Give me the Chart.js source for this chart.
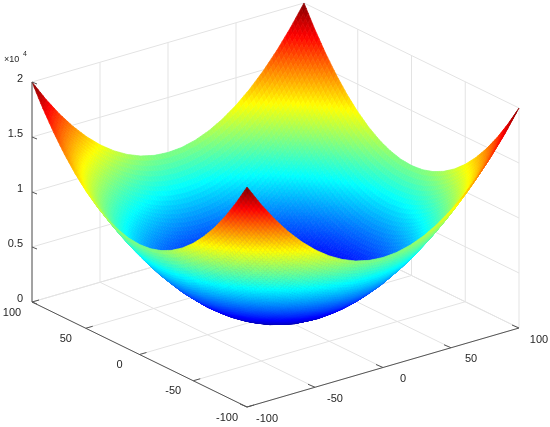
<!DOCTYPE html>
<html><head><meta charset="utf-8">
<script src="https://cdn.jsdelivr.net/npm/chart.js@4"></script>
<style>html,body{margin:0;padding:0;background:#fff}</style>
</head><body>
<canvas id="c" width="550" height="427"></canvas>
<script>
const xs = [-100,-90,-80,-70,-60,-50,-40,-30,-20,-10,0,10,20,30,40,50,60,70,80,90,100];
const ys = [-100,-90,-80,-70,-60,-50,-40,-30,-20,-10,0,10,20,30,40,50,60,70,80,90,100];
const zRows = [
[20000,18100,16400,14900,13600,12500,11600,10900,10400,10100,10000,10100,10400,10900,11600,12500,13600,14900,16400,18100,20000],
[18100,16200,14500,13000,11700,10600,9700,9000,8500,8200,8100,8200,8500,9000,9700,10600,11700,13000,14500,16200,18100],
[16400,14500,12800,11300,10000,8900,8000,7300,6800,6500,6400,6500,6800,7300,8000,8900,10000,11300,12800,14500,16400],
[14900,13000,11300,9800,8500,7400,6500,5800,5300,5000,4900,5000,5300,5800,6500,7400,8500,9800,11300,13000,14900],
[13600,11700,10000,8500,7200,6100,5200,4500,4000,3700,3600,3700,4000,4500,5200,6100,7200,8500,10000,11700,13600],
[12500,10600,8900,7400,6100,5000,4100,3400,2900,2600,2500,2600,2900,3400,4100,5000,6100,7400,8900,10600,12500],
[11600,9700,8000,6500,5200,4100,3200,2500,2000,1700,1600,1700,2000,2500,3200,4100,5200,6500,8000,9700,11600],
[10900,9000,7300,5800,4500,3400,2500,1800,1300,1000,900,1000,1300,1800,2500,3400,4500,5800,7300,9000,10900],
[10400,8500,6800,5300,4000,2900,2000,1300,800,500,400,500,800,1300,2000,2900,4000,5300,6800,8500,10400],
[10100,8200,6500,5000,3700,2600,1700,1000,500,200,100,200,500,1000,1700,2600,3700,5000,6500,8200,10100],
[10000,8100,6400,4900,3600,2500,1600,900,400,100,0,100,400,900,1600,2500,3600,4900,6400,8100,10000],
[10100,8200,6500,5000,3700,2600,1700,1000,500,200,100,200,500,1000,1700,2600,3700,5000,6500,8200,10100],
[10400,8500,6800,5300,4000,2900,2000,1300,800,500,400,500,800,1300,2000,2900,4000,5300,6800,8500,10400],
[10900,9000,7300,5800,4500,3400,2500,1800,1300,1000,900,1000,1300,1800,2500,3400,4500,5800,7300,9000,10900],
[11600,9700,8000,6500,5200,4100,3200,2500,2000,1700,1600,1700,2000,2500,3200,4100,5200,6500,8000,9700,11600],
[12500,10600,8900,7400,6100,5000,4100,3400,2900,2600,2500,2600,2900,3400,4100,5000,6100,7400,8900,10600,12500],
[13600,11700,10000,8500,7200,6100,5200,4500,4000,3700,3600,3700,4000,4500,5200,6100,7200,8500,10000,11700,13600],
[14900,13000,11300,9800,8500,7400,6500,5800,5300,5000,4900,5000,5300,5800,6500,7400,8500,9800,11300,13000,14900],
[16400,14500,12800,11300,10000,8900,8000,7300,6800,6500,6400,6500,6800,7300,8000,8900,10000,11300,12800,14500,16400],
[18100,16200,14500,13000,11700,10600,9700,9000,8500,8200,8100,8200,8500,9000,9700,10600,11700,13000,14500,16200,18100],
[20000,18100,16400,14900,13600,12500,11600,10900,10400,10100,10000,10100,10400,10900,11600,12500,13600,14900,16400,18100,20000]
];
const xTicks = [-100,-50,0,50,100];
const yTicks = [-100,-50,0,50,100];
const zTicks = [0,5000,10000,15000,20000];
const zTickLabels = ['0','0.5','1','1.5','2'];

const O = [247,407], EX = [272,-79], EY = [-215,-105], EZ = [0,-220];
function proj(x,y,z){
  const u=(x+100)/200, v=(y+100)/200, w=z/20000;
  return [O[0]+u*EX[0]+v*EY[0]+w*EZ[0], O[1]+u*EX[1]+v*EY[1]+w*EZ[1]];
}
function jet(t){
  const c=v=>Math.round(255*Math.max(0,Math.min(1,v)));
  return `rgb(${c(1.5-Math.abs(4*t-3))},${c(1.5-Math.abs(4*t-2))},${c(1.5-Math.abs(4*t-1))})`;
}
const SUB = 5; // rendering subdivision of each data cell
const surfacePlugin = {
  id:'surface3d',
  beforeDatasetsDraw(chart){
    const ctx=chart.ctx, sx=chart.scales.x, sy=chart.scales.y;
    const P=(x,y,z)=>{const p=proj(x,y,z);return [sx.getPixelForValue(p[0]),sy.getPixelForValue(p[1])];};
    const line=(a,b,col,w)=>{ctx.strokeStyle=col;ctx.lineWidth=w;ctx.beginPath();ctx.moveTo(a[0],a[1]);ctx.lineTo(b[0],b[1]);ctx.stroke();};
    ctx.save();
    const g='#e3e3e3';
    xTicks.forEach(x=>line(P(x,-100,0),P(x,100,0),g,1));
    yTicks.forEach(y=>line(P(-100,y,0),P(100,y,0),g,1));
    xTicks.forEach(x=>line(P(x,100,0),P(x,100,20000),g,1));
    zTicks.forEach(z=>line(P(-100,100,z),P(100,100,z),g,1));
    yTicks.forEach(y=>line(P(100,y,0),P(100,y,20000),g,1));
    zTicks.forEach(z=>line(P(100,-100,z),P(100,100,z),g,1));
    const cells=[];
    for(let j=0;j<ys.length-1;j++)for(let i=0;i<xs.length-1;i++){
      const z00=zRows[j][i], z10=zRows[j][i+1], z01=zRows[j+1][i], z11=zRows[j+1][i+1];
      const zf=(a,b)=>z00*(1-a)*(1-b)+z10*a*(1-b)+z01*(1-a)*b+z11*a*b;
      for(let b=0;b<SUB;b++)for(let a=0;a<SUB;a++){
        const a0=a/SUB,a1=(a+1)/SUB,b0=b/SUB,b1=(b+1)/SUB;
        const X=t=>xs[i]+(xs[i+1]-xs[i])*t, Y=t=>ys[j]+(ys[j+1]-ys[j])*t;
        const pts=[[X(a0),Y(b0),zf(a0,b0)],[X(a1),Y(b0),zf(a1,b0)],[X(a1),Y(b1),zf(a1,b1)],[X(a0),Y(b1),zf(a0,b1)]];
        const cx=X((a0+a1)/2), cy=Y((b0+b1)/2);
        cells.push({pts,zm:zf((a0+a1)/2,(b0+b1)/2),d:79*cx+105*cy});
      }
    }
    cells.sort((p,q)=>q.d-p.d);
    cells.forEach(c=>{
      const col=jet(c.zm/20000);
      ctx.fillStyle=col;ctx.strokeStyle=col;ctx.lineWidth=0.7;
      ctx.beginPath();
      c.pts.forEach((q,k)=>{const p=P(q[0],q[1],q[2]);k?ctx.lineTo(p[0],p[1]):ctx.moveTo(p[0],p[1]);});
      ctx.closePath();ctx.fill();ctx.stroke();
    });
    const ax='#555';
    line(P(-100,100,0),P(-100,-100,0),ax,1);
    line(P(-100,-100,0),P(100,-100,0),ax,1);
    line(P(-100,100,0),P(-100,100,20000),ax,1);
    ctx.fillStyle='#262626';ctx.font='11px "Liberation Sans", Arial, sans-serif';
    xTicks.forEach(x=>{const p=P(x,-100,0);line(p,[p[0]-7,p[1]-3],ax,1);ctx.textAlign='center';ctx.textBaseline='top';ctx.fillText(String(x),p[0]+20,p[1]+6);});
    yTicks.forEach(y=>{const p=P(-100,y,0);line(p,[p[0]+7,p[1]-2],ax,1);ctx.textAlign='center';ctx.textBaseline='top';ctx.fillText(String(y),p[0]-20,p[1]+5);});
    zTicks.forEach((z,k)=>{const p=P(-100,100,z);line(p,[p[0]+5,p[1]+2],ax,1);ctx.textAlign='right';ctx.textBaseline='middle';ctx.fillText(zTickLabels[k],p[0]-9,p[1]-3);});
    ctx.textAlign='left';ctx.textBaseline='alphabetic';ctx.font='9px "Liberation Sans", Arial, sans-serif';
    ctx.fillText('\u00d710',4,62);ctx.font='7px "Liberation Sans", Arial, sans-serif';ctx.fillText('4',23,56);
    ctx.restore();
  }
};
new Chart(document.getElementById('c'),{
  type:'scatter',
  data:{datasets:[{data:[],pointRadius:0}]},
  options:{responsive:false,animation:false,layout:{padding:0},
    plugins:{legend:{display:false},tooltip:{enabled:false}},
    scales:{x:{type:'linear',min:0,max:550,display:false},y:{type:'linear',min:0,max:427,reverse:true,display:false}}},
  plugins:[surfacePlugin]
});
</script>
</body></html>
